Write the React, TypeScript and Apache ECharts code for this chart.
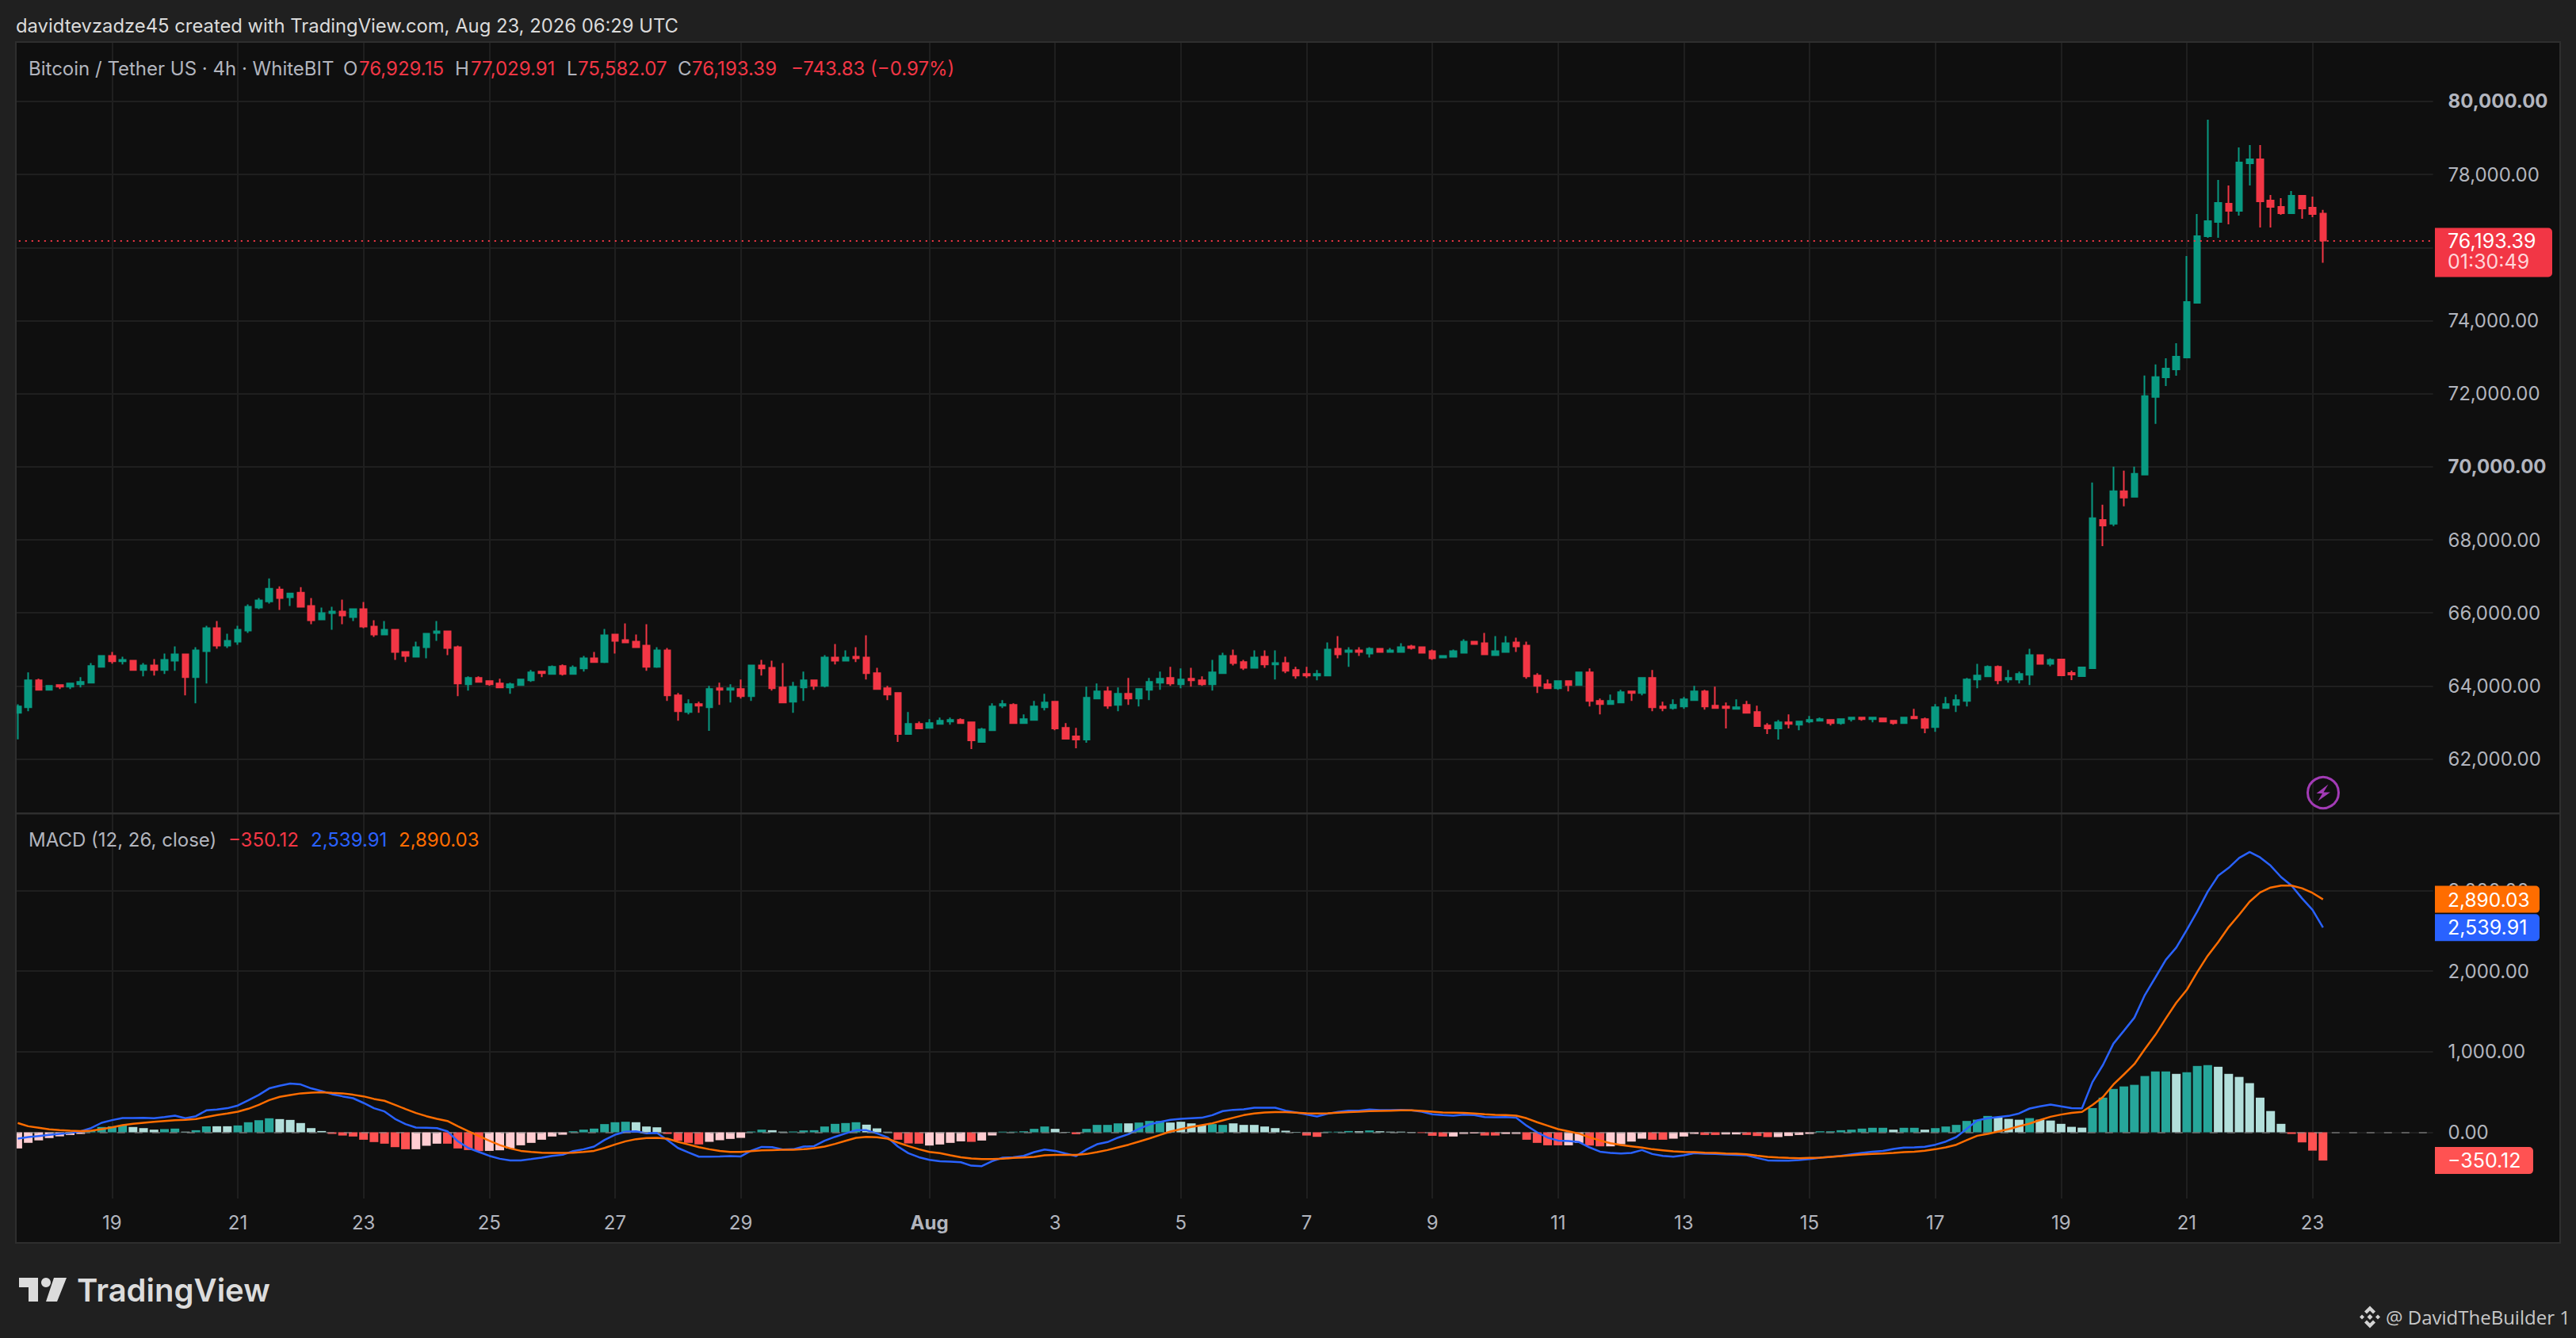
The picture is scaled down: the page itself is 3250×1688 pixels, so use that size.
import React, { useEffect, useRef } from "react";
import * as echarts from "echarts";

const W = 3250;
const H = 1688;
const BAND_COUNT = 231;

const tickIndices = [9, 21, 33, 45, 57, 69, 87, 99, 111, 123, 135, 147, 159, 171, 183, 195, 207, 219];
const tickLabels = ["19", "21", "23", "25", "27", "29", "Aug", "3", "5", "7", "9", "11", "13", "15", "17", "19", "21", "23"];
const priceTicks = [62000, 64000, 66000, 68000, 70000, 72000, 74000, 76000, 78000, 80000];
const macdTicks = [0, 1000, 2000, 3000];

const opens = [
  63268, 63419, 64154, 63895, 64025, 63981, 64046, 64090, 64522, 64825,
  64674, 64695, 64436, 64565, 64436, 64695, 64868, 64241, 64955, 65582,
  65106, 65214, 65517, 66144, 66317, 66642, 66426, 66555, 66188, 65820,
  65993, 66036, 65885, 66101, 65625, 65409, 65539, 64933, 64803, 65063,
  65452, 65496, 65063, 64046, 64219, 64133, 64068, 63960, 64025, 64154,
  64392, 64327, 64544, 64327, 64479, 64760, 64652, 65409, 65258, 65214,
  65106, 64522, 64976, 63743, 63289, 63505, 63419, 63938, 63894, 63916,
  63721, 64565, 64500, 63959, 63570, 63959, 64154, 64003, 64781, 64695,
  64803, 64781, 64349, 63938, 63808, 62683, 62964, 62856, 62964, 63029,
  63073, 63008, 62467, 62791, 63462, 63484, 62986, 63073, 63419, 63570,
  62856, 62618, 62532, 63657, 63851, 63484, 63786, 63657, 63894, 64089,
  64219, 64046, 64197, 64154, 64046, 64349, 64825, 64652, 64500, 64803,
  64587, 64630, 64435, 64327, 64284, 64284, 65019, 64933, 64976, 64889,
  65019, 64933, 64933, 65084, 65063, 64954, 64781, 64803, 64911, 65214,
  65171, 64846, 64933, 65192, 65106, 64284, 64046, 63938, 64132, 64024,
  64370, 63592, 63505, 63548, 63851, 63808, 64219, 63440, 63397, 63440,
  63613, 63851, 63462, 63440, 63375, 63484, 63289, 62921, 62835, 63008,
  62943, 63029, 63051, 63073, 62986, 63094, 63137, 63094, 63116, 63051,
  62986, 63159, 63094, 62878, 63397, 63484, 63592, 64176, 64262, 64522,
  64176, 64176, 64305, 64846, 64608, 64724, 64355, 64268, 64485, 68546,
  68438, 69328, 69176, 69785, 71913, 72449, 72666, 72992, 74489, 76311,
  76702, 77201, 77005, 78307, 78416, 77287, 77114, 76940, 77418, 77092,
  76929.15,
];
const closes = [
  63441, 64154, 63895, 64003, 63981, 64068, 64111, 64544, 64825, 64674,
  64717, 64436, 64565, 64436, 64717, 64868, 64241, 64976, 65582, 65106,
  65236, 65539, 66166, 66339, 66664, 66404, 66534, 66166, 65798, 65993,
  66036, 65928, 66101, 65625, 65409, 65539, 64933, 64825, 65063, 65431,
  65496, 65041, 64068, 64219, 64111, 64046, 63960, 64046, 64176, 64371,
  64349, 64522, 64327, 64501, 64760, 64652, 65387, 65236, 65193, 65063,
  64522, 64976, 63743, 63310, 63505, 63462, 63916, 63894, 63938, 63721,
  64565, 64479, 63938, 63548, 63981, 64154, 64003, 64781, 64695, 64781,
  64760, 64349, 63916, 63765, 62683, 62964, 62835, 62986, 63051, 63073,
  62986, 62510, 62813, 63440, 63505, 62986, 63094, 63440, 63548, 62835,
  62553, 62532, 63678, 63851, 63462, 63786, 63657, 63916, 64111, 64197,
  64068, 64176, 64154, 64046, 64370, 64825, 64630, 64500, 64781, 64587,
  64630, 64414, 64284, 64284, 64327, 64998, 64868, 64976, 64933, 65019,
  64933, 64976, 65063, 65041, 64911, 64760, 64825, 64954, 65214, 65149,
  64868, 64954, 65171, 65084, 64262, 64003, 63938, 64132, 64024, 64370,
  63592, 63505, 63592, 63830, 63808, 64219, 63419, 63397, 63484, 63635,
  63851, 63440, 63397, 63397, 63419, 63267, 62900, 62835, 63008, 62964,
  63029, 63073, 63094, 62986, 63094, 63137, 63094, 63137, 63029, 62986,
  63137, 63116, 62856, 63419, 63505, 63613, 64176, 64284, 64522, 64154,
  64219, 64327, 64846, 64608, 64716, 64289, 64311, 64507, 68590, 68394,
  69328, 69155, 69806, 71935, 72456, 72688, 73013, 74510, 76311, 76723,
  77222, 77005, 78329, 78416, 77266, 77114, 76940, 77418, 77071, 76919,
  76193.39,
];
const lows = [
  62539, 63311, 63873, 63873, 63917, 63917, 63960, 64068, 64501, 64609,
  64587, 64430, 64263, 64284, 64327, 64414, 63743, 63527, 64068, 65020,
  65041, 65128, 65452, 66101, 66253, 66080, 66188, 66166, 65690, 65820,
  65539, 65690, 65777, 65582, 65344, 65409, 64717, 64652, 64803, 64760,
  65236, 64847, 63722, 63873, 64111, 64003, 63938, 63787, 64025, 64111,
  64241, 64327, 64284, 64327, 64392, 64652, 64630, 64890, 65193, 65063,
  64414, 64500, 63592, 63051, 63224, 63267, 62770, 63484, 63548, 63657,
  63592, 64284, 63873, 63527, 63267, 63592, 63894, 63959, 64587, 64673,
  64652, 64176, 63894, 63613, 62467, 62683, 62835, 62856, 62964, 62943,
  62986, 62272, 62467, 62791, 63397, 62986, 62986, 63073, 63332, 62791,
  62553, 62294, 62445, 63657, 63375, 63310, 63484, 63440, 63613, 63894,
  64003, 63938, 63981, 64003, 63873, 64349, 64565, 64435, 64479, 64500,
  64176, 64349, 64197, 64219, 64154, 64284, 64760, 64522, 64825, 64781,
  64933, 64933, 64911, 64998, 64911, 64716, 64760, 64781, 64889, 65149,
  64846, 64825, 64911, 64933, 64197, 63808, 63916, 63894, 63851, 64024,
  63440, 63224, 63505, 63527, 63592, 63743, 63310, 63310, 63354, 63375,
  63592, 63354, 63397, 62835, 63354, 63267, 62900, 62683, 62532, 62835,
  62791, 62986, 63029, 62921, 62943, 63029, 63051, 63008, 63029, 62943,
  62986, 63116, 62705, 62748, 63397, 63289, 63440, 63938, 64241, 64046,
  64089, 64068, 64024, 64608, 64543, 64268, 64159, 64246, 64463, 67830,
  68373, 68916, 69176, 69763, 71175, 72211, 72493, 72992, 74489, 76268,
  76268, 76637, 76875, 77700, 76550, 76550, 76897, 76940, 76788, 76832,
  75582.07,
];
const highs = [
  63498, 64371, 64198, 64010, 64025, 64068, 64241, 64630, 64847, 64933,
  64803, 64717, 64630, 64738, 64890, 65085, 64868, 65063, 65647, 65777,
  65431, 65647, 66231, 66404, 66945, 66728, 66555, 66707, 66404, 66144,
  66166, 66361, 66123, 66296, 65798, 65777, 65560, 64933, 65214, 65452,
  65777, 65496, 65106, 64263, 64263, 64154, 64198, 64090, 64176, 64436,
  64414, 64565, 64587, 64565, 64825, 64933, 65560, 65409, 65712, 65409,
  65690, 65063, 65041, 63808, 63635, 63570, 64003, 64089, 64046, 64176,
  64565, 64716, 64695, 64630, 64111, 64392, 64176, 64846, 65149, 64976,
  65063, 65387, 64500, 64003, 63830, 63289, 63029, 63094, 63137, 63137,
  63116, 63008, 62856, 63527, 63613, 63527, 63224, 63592, 63786, 63570,
  62986, 62856, 63981, 64068, 63981, 63959, 64219, 63938, 64219, 64392,
  64522, 64479, 64500, 64262, 64716, 64911, 64998, 64716, 64976, 64976,
  64976, 64803, 64522, 64522, 64435, 65192, 65365, 65063, 65063, 65063,
  65041, 65041, 65171, 65127, 65084, 64998, 64846, 64998, 65279, 65235,
  65452, 65365, 65365, 65322, 65214, 64349, 64176, 64154, 64154, 64392,
  64479, 63657, 63765, 63894, 63873, 64241, 64435, 63570, 63635, 63700,
  64003, 63894, 63981, 63548, 63635, 63592, 63462, 62986, 63073, 63224,
  63051, 63181, 63137, 63073, 63116, 63137, 63159, 63137, 63137, 63073,
  63137, 63375, 63137, 63505, 63700, 63765, 64219, 64608, 64565, 64565,
  64435, 64392, 65019, 64868, 64760, 64745, 64420, 64528, 69567, 68959,
  70002, 69893, 70002, 72500, 72804, 72970, 73382, 75769, 76919, 79501,
  77852, 77700, 78741, 78806, 78806, 77439, 77353, 77548, 77440, 77396,
  77029.91,
];

const histValues = [
  -200, -130, -100, -72, -50, -33, -20, 20, 66, 75,
  85, 66, 52, 33, 40, 46, 8, 26, 75, 75,
  75, 85, 125, 150, 174, 164, 154, 115, 52, 16,
  -20, -40, -52, -92, -121, -141, -184, -210, -210, -167,
  -141, -141, -200, -220, -233, -230, -223, -200, -161, -131,
  -92, -52, -30, 13, 33, 46, 102, 125, 131, 125,
  72, 62, -20, -105, -131, -150, -118, -98, -82, -69,
  10, 33, 26, 8, 10, 23, 26, 72, 105, 115,
  125, 95, 49, 7, -92, -138, -141, -164, -151, -131,
  -112, -118, -102, -39, 8, 8, 13, 43, 72, 43,
  5, -23, 43, 92, 92, 111, 111, 121, 141, 141,
  121, 131, 111, 92, 102, 92, 111, 92, 92, 72,
  52, 20, 5, -40, -56, 8, 8, 16, 13, 23,
  13, 8, 8, 5, -8, -43, -52, -52, -20, -13,
  -40, -40, -20, -20, -92, -131, -161, -161, -161, -131,
  -164, -174, -174, -148, -115, -79, -92, -92, -79, -52,
  -20, -33, -33, -26, -26, -33, -46, -59, -59, -46,
  -33, -20, 13, 13, 26, 33, 46, 56, 56, 33,
  56, 56, 33, 52, 72, 92, 141, 157, 203, 186,
  166, 156, 176, 156, 146, 105, 68, 58, 301, 430,
  538, 569, 589, 698, 755, 755, 725, 745, 823, 833,
  813, 725, 687, 610, 430, 264, 105, -20, -125, -227,
  -350.12,
];
const histKinds = [
  "PPPPPPPTTT", "TLLLTTLTTL", "LTTTTLLLLL", "RRRRRRRRPP", "PRRRRPPPPP",
  "PPPTTTTTTL", "LLRRRRPPPP", "TTLLTTTTTT", "TLLLRRRPPP", "PRPPTTTTTL",
  "LRTTTTLTTT", "LLLLTTLLLL", "LLLRRTTTLT", "LLLLRRRPPP", "RRPPRRRRPP",
  "RRPPPPRRPP", "PRRPPRRRPP", "PPTTTTTTTL", "TTLTTTTTTL", "LLTLLLLLTT",
  "TTTTTTLTTT", "LLLLLLLRRR", "R",
].join("");
const macdValues = [
  -79, -59, -46, -33, -20, -7, 13, 52, 118, 151,
  177, 177, 180, 174, 190, 207, 174, 200, 272, 282,
  299, 332, 397, 463, 545, 578, 604, 594, 545, 512,
  473, 446, 423, 364, 299, 259, 167, 102, 59, 56,
  52, 13, -112, -194, -243, -292, -328, -348, -348, -332,
  -315, -292, -279, -233, -210, -177, -95, -30, 7, 13,
  -13, -7, -95, -194, -250, -302, -302, -299, -295, -299,
  -227, -181, -184, -213, -210, -177, -171, -105, -56, -13,
  26, 26, -13, -62, -177, -259, -309, -341, -358, -364,
  -371, -414, -420, -358, -315, -309, -292, -246, -213, -230,
  -263, -295, -213, -148, -121, -66, -23, 43, 98, 128,
  154, 167, 174, 181, 213, 263, 279, 286, 305, 305,
  305, 269, 246, 220, 197, 230, 253, 269, 269, 282,
  276, 276, 279, 272, 256, 223, 213, 207, 220, 213,
  190, 187, 190, 181, 82, 0, -66, -102, -108, -121,
  -187, -240, -256, -263, -256, -220, -269, -292, -302, -286,
  -259, -266, -269, -276, -279, -286, -318, -348, -351, -351,
  -345, -332, -315, -305, -292, -272, -256, -240, -230, -207,
  -190, -187, -180, -154, -115, -59, 43, 148, 175, 190,
  203, 234, 295, 322, 345, 322, 301, 298, 623, 836,
  1100, 1260, 1422, 1703, 1920, 2140, 2292, 2512, 2739, 2986,
  3183, 3281, 3403, 3477, 3410, 3308, 3166, 3061, 2902, 2760,
  2539.91,
];
const signalValues = [
  115, 75, 56, 36, 26, 20, 16, 20, 39, 62,
  89, 105, 118, 131, 141, 151, 154, 164, 190, 213,
  233, 256, 292, 341, 400, 440, 463, 483, 492, 496,
  489, 483, 466, 446, 414, 391, 341, 289, 240, 200,
  167, 141, 75, 13, -46, -105, -158, -200, -230, -243,
  -253, -256, -256, -253, -243, -230, -194, -151, -112, -85,
  -72, -69, -79, -118, -151, -184, -210, -230, -243, -243,
  -233, -223, -220, -217, -217, -210, -197, -177, -144, -105,
  -69, -56, -62, -79, -128, -171, -210, -243, -259, -286,
  -309, -325, -332, -332, -328, -318, -312, -305, -286, -279,
  -279, -279, -269, -246, -220, -187, -154, -115, -76, -33,
  10, 39, 66, 89, 112, 148, 181, 213, 233, 246,
  250, 250, 243, 236, 233, 236, 243, 250, 256, 263,
  266, 269, 272, 272, 266, 256, 246, 243, 240, 233,
  223, 217, 213, 207, 174, 125, 82, 39, 13, -16,
  -62, -102, -135, -158, -174, -190, -210, -223, -236, -243,
  -246, -253, -256, -263, -266, -272, -289, -305, -312, -318,
  -322, -318, -315, -305, -295, -286, -276, -268, -262, -255,
  -246, -240, -228, -210, -187, -154, -98, -43, -20, 10,
  40, 75, 108, 152, 193, 220, 240, 254, 339, 437,
  593, 718, 846, 1033, 1209, 1412, 1608, 1767, 1988, 2191,
  2360, 2546, 2699, 2861, 2976, 3037, 3061, 3061, 3027, 2970,
  2890.03,
];

const lastClose = 76193.39;
const lastMacd = 2539.91;
const lastSignal = 2890.03;
const lastHist = -350.12;

const UP = "#089981";
const DOWN = "#F23645";
const GRID = "#1F1F1F";
const AXIS_TEXT = "#B2B5BE";
const FONT = "Inter";
const histColors: Record<string, string> = { T: "#26A69A", L: "#B2DFDB", R: "#FF5252", P: "#FFCDD2" };

const categories = Array.from({ length: BAND_COUNT }, (_, i) => String(i));
const candles = opens.map((o, i) => [o, closes[i], lows[i], highs[i]]);
const histData = histValues.map((v, i) => ({ value: v, itemStyle: { color: histColors[histKinds[i]] } }));
const isTick = (i: number) => tickIndices.includes(i);
const money = (v: number) =>
  v.toLocaleString("en-US", { minimumFractionDigits: 2, maximumFractionDigits: 2 });

function xAxis(gridIndex: number, showLabel: boolean) {
  return {
    type: "category",
    gridIndex,
    data: categories,
    boundaryGap: true,
    axisLine: { show: false },
    axisTick: { show: false },
    splitLine: {
      show: true,
      alignWithLabel: true,
      interval: (i: number) => isTick(i),
      lineStyle: { color: GRID, width: 2 },
    },
    axisLabel: {
      show: showLabel,
      interval: (i: number) => isTick(i),
      formatter: (_: string, i: number) => {
        const label = tickLabels[tickIndices.indexOf(i)] ?? "";
        return label === "Aug" ? `{b|${label}}` : label;
      },
      color: AXIS_TEXT,
      fontFamily: FONT,
      fontSize: 24,
      margin: 18,
      rich: { b: { color: AXIS_TEXT, fontFamily: FONT, fontSize: 24, fontWeight: 700 } },
    },
  };
}

function buildOption() {
  return {
    animation: false,
    backgroundColor: "#202020",
    grid: [
      { left: 15.8, top: 53.5, width: 3053.8, height: 972.5, containLabel: false },
      { left: 15.8, top: 1027, width: 3053.8, height: 485, containLabel: false },
    ],
    xAxis: [xAxis(0, false), xAxis(1, true)],
    yAxis: [
      {
        type: "value",
        gridIndex: 0,
        position: "right",
        min: 60516,
        max: 81616,
        axisLine: { show: false },
        axisTick: { show: false, customValues: priceTicks },
        splitLine: { show: true, lineStyle: { color: GRID, width: 2 } },
        axisLabel: {
          customValues: priceTicks,
          margin: 19,
          color: AXIS_TEXT,
          fontFamily: FONT,
          fontSize: 24,
          formatter: (v: number) => (v % 10000 === 0 ? `{b|${money(v)}}` : money(v)),
          rich: { b: { color: AXIS_TEXT, fontFamily: FONT, fontSize: 24, fontWeight: 700 } },
        },
      },
      {
        type: "value",
        gridIndex: 1,
        position: "right",
        min: -821,
        max: 3948,
        axisLine: { show: false },
        axisTick: { show: false, customValues: macdTicks },
        splitLine: { show: true, lineStyle: { color: GRID, width: 2 } },
        axisLabel: {
          customValues: macdTicks,
          margin: 19,
          color: AXIS_TEXT,
          fontFamily: FONT,
          fontSize: 24,
          formatter: (v: number) => money(v),
        },
      },
    ],
    series: [
      {
        type: "candlestick",
        xAxisIndex: 0,
        yAxisIndex: 0,
        data: candles,
        barWidth: 8,
        z: 3,
        itemStyle: { color: UP, color0: DOWN, borderColor: UP, borderColor0: DOWN, borderWidth: 2 },
        markLine: {
          silent: true,
          symbol: "none",
          label: { show: false },
          lineStyle: { color: DOWN, type: [2, 6], width: 2 },
          data: [{ yAxis: lastClose }],
          animation: false,
        },
      },
      {
        type: "bar",
        xAxisIndex: 1,
        yAxisIndex: 1,
        data: histData,
        barWidth: 11,
        z: 2,
        markLine: {
          silent: true,
          symbol: "none",
          label: { show: false },
          lineStyle: { color: "rgba(140,140,140,0.55)", type: [10, 12], width: 2 },
          data: [{ yAxis: 0 }],
          animation: false,
        },
      },
      {
        type: "line",
        xAxisIndex: 1,
        yAxisIndex: 1,
        data: macdValues,
        showSymbol: false,
        z: 4,
        lineStyle: { color: "#2962FF", width: 2.5 },
      },
      {
        type: "line",
        xAxisIndex: 1,
        yAxisIndex: 1,
        data: signalValues,
        showSymbol: false,
        z: 5,
        lineStyle: { color: "#FF6D00", width: 2.5 },
      },
    ],
  };
}

function txt(text: string, x: number, y: number, fill: string, size = 24, weight = 400, family = FONT, z = 20) {
  return {
    type: "text",
    silent: true,
    z,
    style: { text, x, y, fill, font: `${weight} ${size}px "${family}"`, textAlign: "left", textVerticalAlign: "middle" },
  };
}

function tag(y: number, top: number, height: number, right: number, fill: string) {
  return {
    type: "rect",
    silent: true,
    z: 18,
    shape: { x: 3072, y: y - top, width: right - 3072, height, r: [0, 5, 5, 0] },
    style: { fill },
  };
}

function buildGraphics(yPrice: number, yMacd: number, ySignal: number, yHist: number) {
  const logoFill = "#DCDCDC";
  const boltFill = "#A23BB5";
  const bin = "#D4D4D4";
  const bx = 2990;
  const by = 1661.5;
  return [
    {
      type: "rect",
      silent: true,
      z: -10,
      shape: { x: 20, y: 53, width: 3210, height: 1515 },
      style: { fill: "#0F0F0F" },
    },
    { type: "rect", silent: true, z: 15, shape: { x: 0, y: 40, width: 19, height: 1540 }, style: { fill: "#202020" } },
    { type: "rect", silent: true, z: 16, shape: { x: 19, y: 53, width: 2, height: 1516 }, style: { fill: "#2E2E2E" } },
    { type: "rect", silent: true, z: 16, shape: { x: 19, y: 52, width: 3212, height: 2 }, style: { fill: "#2E2E2E" } },
    { type: "rect", silent: true, z: 16, shape: { x: 19, y: 1567, width: 3212, height: 2 }, style: { fill: "#2E2E2E" } },
    { type: "rect", silent: true, z: 16, shape: { x: 3229, y: 52, width: 2, height: 1517 }, style: { fill: "#2E2E2E" } },
    { type: "rect", silent: true, z: 16, shape: { x: 20, y: 1025, width: 3210, height: 2.5 }, style: { fill: "#2E2E2E" } },

    txt("davidtevzadze45 created with TradingView.com, Aug 23, 2026 06:29 UTC", 20, 32, "#DBDBDB", 23.8),
    txt("Bitcoin / Tether US · 4h · WhiteBIT", 36, 86, AXIS_TEXT),
    txt("O", 433, 86, AXIS_TEXT),
    txt("76,929.15", 453, 86, DOWN),
    txt("H", 574, 86, AXIS_TEXT),
    txt("77,029.91", 594, 86, DOWN),
    txt("L", 715, 86, AXIS_TEXT),
    txt("75,582.07", 729, 86, DOWN),
    txt("C", 855, 86, AXIS_TEXT),
    txt("76,193.39", 873, 86, DOWN),
    txt("−743.83 (−0.97%)", 998, 86, DOWN),
    txt("MACD (12, 26, close)", 36, 1059, AXIS_TEXT),
    txt("−350.12", 288, 1059, DOWN),
    txt("2,539.91", 392, 1059, "#2962FF"),
    txt("2,890.03", 503, 1059, "#FF6D00"),

    tag(yPrice, 16, 62, 3220, DOWN),
    txt(money(lastClose), 3088, yPrice + 0.5, "#FFFFFF", 25),
    txt("01:30:49", 3088, yPrice + 27, "#FFD5D9", 25),
    tag(ySignal, 17, 34, 3204, "#FF6D00"),
    txt(money(lastSignal), 3088, ySignal, "#FFFFFF", 24.5),
    tag(yMacd, 17, 34, 3204, "#2962FF"),
    txt(money(lastMacd), 3088, yMacd, "#FFFFFF", 25),
    tag(yHist, 17, 34, 3196, "#FF5252"),
    txt("−350.12", 3088, yHist, "#FFFFFF", 25),

    { type: "circle", silent: true, z: 18, shape: { cx: 2931, cy: 1000, r: 19.5 }, style: { fill: "none", stroke: boltFill, lineWidth: 3 } },
    {
      type: "polygon",
      silent: true,
      z: 18,
      shape: { points: [[2937.5, 989.5], [2922.5, 1001], [2930, 1001], [2924.5, 1010.5], [2940, 999.5], [2931.5, 999.5]] },
      style: { fill: boltFill },
    },

    { type: "polygon", silent: true, z: 18, shape: { points: [[24, 1612], [48, 1612], [48, 1642], [36, 1642], [36, 1624], [24, 1624]] }, style: { fill: logoFill } },
    { type: "circle", silent: true, z: 18, shape: { cx: 58, cy: 1618, r: 6 }, style: { fill: logoFill } },
    { type: "polygon", silent: true, z: 18, shape: { points: [[68, 1612], [84, 1612], [72, 1642], [58, 1642]] }, style: { fill: logoFill } },
    {
      type: "text",
      silent: true,
      z: 18,
      style: { text: "TradingView", x: 97, y: 1627, fill: logoFill, font: '600 40px "Inter"', textVerticalAlign: "middle" },
    },

    { type: "polygon", silent: true, z: 18, shape: { points: [[bx, by - 14], [bx + 7, by - 7], [bx + 4, by - 4], [bx, by - 8], [bx - 4, by - 4], [bx - 7, by - 7]] }, style: { fill: bin } },
    { type: "polygon", silent: true, z: 18, shape: { points: [[bx, by + 14], [bx + 7, by + 7], [bx + 4, by + 4], [bx, by + 8], [bx - 4, by + 4], [bx - 7, by + 7]] }, style: { fill: bin } },
    { type: "polygon", silent: true, z: 18, shape: { points: [[bx, by - 3.5], [bx + 3.5, by], [bx, by + 3.5], [bx - 3.5, by]] }, style: { fill: bin } },
    { type: "polygon", silent: true, z: 18, shape: { points: [[bx - 10, by - 3], [bx - 7, by], [bx - 10, by + 3], [bx - 13, by]] }, style: { fill: bin } },
    { type: "polygon", silent: true, z: 18, shape: { points: [[bx + 10, by - 3], [bx + 13, by], [bx + 10, by + 3], [bx + 7, by]] }, style: { fill: bin } },
    txt("@ DavidTheBuilder 1", 3010, 1661, "#C8C8C8", 24, 400, "Open Sans", 18),
  ];
}

export default function App() {
  const ref = useRef<HTMLDivElement>(null);
  useEffect(() => {
    document.body.style.margin = "0";
    document.body.style.background = "#202020";
    const chart = echarts.init(ref.current as HTMLDivElement, undefined, { renderer: "svg" });
    chart.setOption(buildOption() as any);
    const yP = chart.convertToPixel({ yAxisIndex: 0 }, lastClose) as number;
    const yM = chart.convertToPixel({ yAxisIndex: 1 }, lastMacd) as number;
    const yS = chart.convertToPixel({ yAxisIndex: 1 }, lastSignal) as number;
    const yH = chart.convertToPixel({ yAxisIndex: 1 }, lastHist) as number;
    chart.setOption({ graphic: { elements: buildGraphics(yP, yM, yS, yH) } } as any);
    return () => chart.dispose();
  }, []);
  return <div ref={ref} style={{ position: "absolute", left: 0, top: 0, width: W, height: H }} />;
}
